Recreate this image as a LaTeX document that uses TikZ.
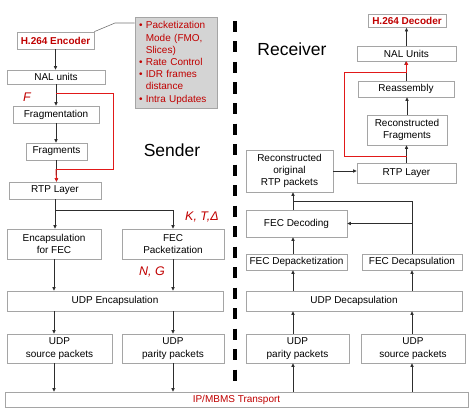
\documentclass[tikz,border=0pt]{standalone}
\usepackage{fontspec}
\setmainfont{Liberation Sans}
\usetikzlibrary{arrows.meta,positioning,calc}
\definecolor{codecRed}{RGB}{192,0,0}
\definecolor{loopRed}{RGB}{225,25,25}
\definecolor{boxGray}{RGB}{165,165,165}
\definecolor{noteGray}{RGB}{212,212,212}
\definecolor{wireDark}{RGB}{45,45,45}

\begin{document}
\begin{tikzpicture}[
    x=1pt, y=-1pt,
    blk/.style={
        rectangle, draw=boxGray, line width=0.7pt, fill=white,
        inner sep=0pt, align=center,
        font=\fontsize{10}{12.3}\selectfont
    },
    arr/.style={-{Triangle[length=3.6pt,width=3.2pt]}, line width=0.8pt, draw=wireDark},
    wire/.style={line width=0.8pt, draw=wireDark},
    redwire/.style={line width=1pt, draw=loopRed},
    redarr/.style={-{Triangle[length=3.6pt,width=3.4pt]}, line width=1pt, draw=loopRed},
    param/.style={font=\fontsize{12.5}{14}\selectfont\itshape, text=codecRed},
    side/.style={font=\fontsize{17.5}{20}\selectfont},
    divider/.style={line width=3.6pt, dash pattern=on 11pt off 9.5pt}
]
    \useasboundingbox (0,0) rectangle (474,420);

    % Sender stack
    \node [blk, minimum width=77, minimum height=17, text=codecRed, font=\fontsize{10}{12}\selectfont\bfseries] (enc) at (55.5,40.5) {H.264 Encoder};
    \node [blk, minimum width=98, minimum height=14] (nal) at (56,77) {NAL units};
    \node [blk, minimum width=86, minimum height=17] (frag) at (56,114.5) {Fragmentation};
    \node [blk, minimum width=61, minimum height=17] (frags) at (56.5,151.5) {Fragments};
    \node [blk, minimum width=92, minimum height=17] (rtp) at (55,190.5) {RTP Layer};
    \node [blk, minimum width=94, minimum height=30] (encap) at (54,244) {Encapsulation\\for FEC};
    \node [blk, minimum width=102, minimum height=30] (fecpkt) at (173,244) {FEC\\Packetization};
    \node [blk, minimum width=216, minimum height=20] (udpenc) at (115,301) {UDP Encapsulation};
    \node [blk, minimum width=105, minimum height=29] (udpsrc) at (59.5,348.5) {UDP\\source packets};
    \node [blk, minimum width=102, minimum height=29] (udppar) at (173,348.5) {UDP\\parity packets};

    % Encoder settings note
    \node [rectangle, draw=boxGray, line width=0.7pt, fill=noteGray, minimum width=82, minimum height=90,
           text width=74pt, inner sep=4pt, align=left, text=codecRed,
           font=\fontsize{10}{12.2}\selectfont] (note) at (176,63) {
        \textbullet\ Packetization\\
        \phantom{\textbullet\ }Mode (FMO,\\
        \phantom{\textbullet\ }Slices)\\
        \textbullet\ Rate Control\\
        \textbullet\ IDR frames\\
        \phantom{\textbullet\ }distance\\
        \textbullet\ Intra Updates
    };
    \coordinate (noteBend) at (115,23);
    \draw [line width=0.6pt, draw=black!55] (enc.north east) -- (noteBend) -- (noteBend -| note.west);

    % Shared transport
    \node [blk, minimum width=463, minimum height=15, text=codecRed] (ip) at (236.5,399.5) {IP/MBMS Transport};

    % Receiver stack
    \node [blk, minimum width=78, minimum height=13, text=codecRed, font=\fontsize{10}{12}\selectfont\bfseries] (dec) at (407,21) {H.264 Decoder};
    \node [blk, minimum width=99, minimum height=15] (rnal) at (406.5,53.5) {NAL Units};
    \node [blk, minimum width=96, minimum height=16] (reasm) at (406,89) {Reassembly};
    \node [blk, minimum width=80, minimum height=30] (rfrag) at (407,130) {Reconstructed\\Fragments};
    \node [blk, minimum width=87, minimum height=42, font=\fontsize{10}{12}\selectfont] (rorig) at (289.5,171) {Reconstructed\\original\\RTP packets};
    \node [blk, minimum width=99, minimum height=20] (rrtp) at (406.5,173) {RTP Layer};
    \node [blk, minimum width=101, minimum height=27] (fecdec) at (296.5,223.5) {FEC Decoding};
    \node [blk, minimum width=101, minimum height=16] (fecdepkt) at (296.5,262) {FEC Depacketization};
    \node [blk, minimum width=100, minimum height=16] (fecdecap) at (412,262) {FEC Decapsulation};
    \node [blk, minimum width=216, minimum height=20] (udpdec) at (354,301) {UDP Decapsulation};
    \node [blk, minimum width=103, minimum height=29] (rudppar) at (297.5,348.5) {UDP\\parity packets};
    \node [blk, minimum width=104, minimum height=29] (rudpsrc) at (413,348.5) {UDP\\source packets};

    % Labels
    \node [side] (sendLbl) at (172,150) {Sender};
    \node [side] (recvLbl) at (292,49) {Receiver};
    \node [param] (fLbl) at (27,97) {F};
    \node [param] (ktLbl) at (202,217) {K, T,Δ};
    \node [param] (ngLbl) at (152,272) {N, G};

    % Sender flow
    \draw [arr] (enc.south) -- (enc.south |- nal.north);
    \draw [arr] (nal.south) -- (nal.south |- frag.north);
    \draw [arr] (frag.south) -- (frag.south |- frags.north);
    \draw [arr] (frags.south) -- (frags.south |- rtp.north);
    \coordinate (fTop) at (56,93);
    \coordinate (fLoopTop) at (113,93);
    \coordinate (fLoopBot) at (113,169);
    \coordinate (fJoin) at (56,169);
    \draw [redwire] (fTop) -- (fLoopTop) -- (fLoopBot) -- (fJoin);
    \draw [redarr] (fJoin) -- (frags.south |- rtp.north);
    \draw [arr] (rtp.south) -- (rtp.south |- encap.north);
    \draw [arr] (rtp.south |- 0,210) -| (fecpkt.north);
    \draw [arr] (encap.south) -- (encap.south |- udpenc.north);
    \draw [arr] (fecpkt.south) -- (fecpkt.south |- udpenc.north);
    \draw [arr] (encap.south |- udpenc.south) -- (encap.south |- udpsrc.north);
    \draw [arr] (fecpkt.south |- udpenc.south) -- (udppar.north);
    \draw [arr] (encap.south |- udpsrc.south) -- (encap.south |- ip.north);
    \draw [arr] (udppar.south) -- (udppar.south |- ip.north);

    % Receiver flow
    \coordinate (colL) at (293,0);
    \coordinate (colR) at (412,0);
    \draw [arr] (colL |- ip.north) -- (colL |- rudppar.south);
    \draw [arr] (colR |- ip.north) -- (colR |- rudpsrc.south);
    \draw [arr] (colL |- rudppar.north) -- (colL |- udpdec.south);
    \draw [arr] (colR |- rudpsrc.north) -- (colR |- udpdec.south);
    \draw [arr] (colL |- udpdec.north) -- (colL |- fecdepkt.south);
    \draw [arr] (colR |- udpdec.north) -- (colR |- fecdecap.south);
    \draw [arr] (colL |- fecdepkt.north) -- (colL |- fecdec.south);
    \draw [arr] (colL |- fecdec.north) -- (colL |- rorig.south);
    \draw [wire] (colR |- fecdecap.north) -- (colR |- 0,201) -- (colL |- 0,201);
    \draw [arr] (colR |- fecdec.east) -- (fecdec.east);
    \draw [arr] (rorig.east) -- (rrtp.west |- rorig.east);
    \draw [arr] (rrtp.north) -- (rrtp.north |- rfrag.south);
    \draw [arr] (rfrag.north) -- (rfrag.north |- reasm.south);
    \draw [arr] (reasm.north) -- (reasm.north |- rnal.south);
    \draw [arr] (rnal.north) -- (rnal.north |- dec.south);
    \coordinate (rLoop) at (344,0);
    \draw [redarr] (rrtp.north |- 0,156) -- (rLoop |- 0,156) -- (rLoop |- 0,73) -- (rrtp.north |- 0,73) -- (rrtp.north |- rnal.south);

    % Sender / receiver divide
    \draw [divider] (235,21) -- (235,389);

\end{tikzpicture}
\end{document}
